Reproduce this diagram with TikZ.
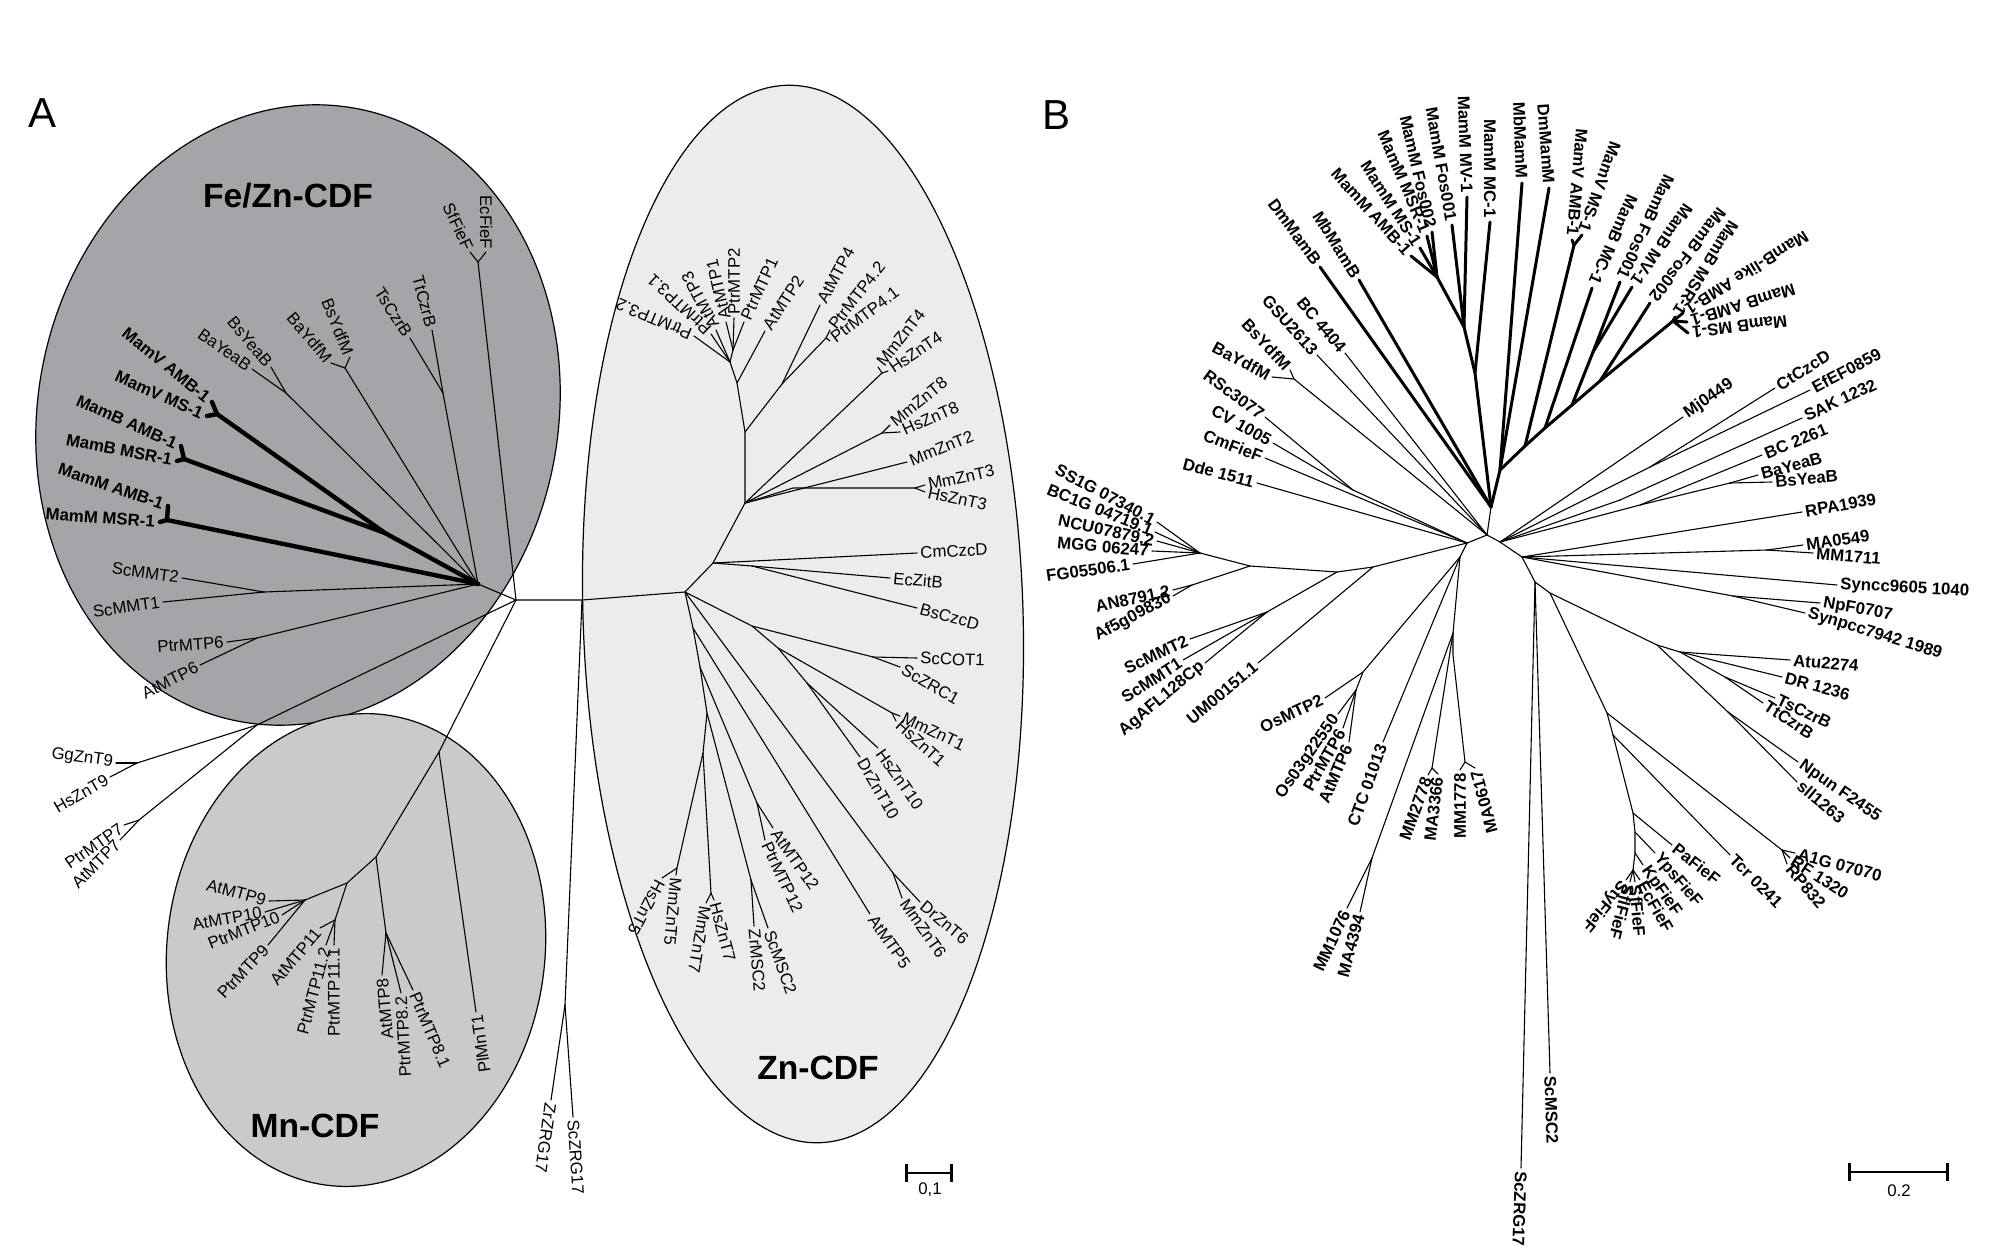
\documentclass[tikz,border=0pt]{standalone}
\usepackage{fontspec}
\setmainfont{Liberation Sans}
\usetikzlibrary{arrows.meta}
\definecolor{fezc}{RGB}{163,165,168}
\definecolor{mnc}{RGB}{200,202,204}
\definecolor{znc}{RGB}{236,236,236}
\tikzset{
  lbl/.style={font=\fontsize{8.4}{10}\selectfont, inner sep=1.5pt},
  br/.style={line width=0.55pt, line cap=round},
  thk/.style={line width=2.2pt},
  thkb/.style={line width=1.5pt},
  bld/.style={font=\bfseries\fontsize{8.4}{10}\selectfont},
  clade/.style={line width=0.6pt, draw=black},
  head/.style={font=\bfseries\fontsize{16.8}{20}\selectfont},
  panel/.style={font=\fontsize{21}{24}\selectfont},
  sbar/.style={line width=1.4pt, {Bar[width=9pt]}-{Bar[width=9pt]}},
}
\newcommand\lf[7][]{%
  \coordinate (#4) at (#5);
  \draw[br,#1] (#3) -- (#4);
  \node[lbl,#1,anchor=#2,rotate=#6] (#4t) at (#4) {#7};
}
\newcommand\lfw[6][]{\lf[#1]{west}{#2}{#3}{#4}{#5}{#6}}
\newcommand\lfe[6][]{\lf[#1]{east}{#2}{#3}{#4}{#5}{#6}}
\begin{document}
\begin{tikzpicture}[x=0.5pt,y=-0.5pt]
\useasboundingbox (0,0) rectangle (1991,1253);
\fill[white] (0,0) rectangle (1991,1253);

% ================= PANEL A =================
\node[panel] (pA) at (43,113) {A};
\draw[clade,fill=fezc,rotate around={-11.3:(298,415)}] (298,415) ellipse [x radius=130pt, y radius=156pt];
\draw[clade,fill=mnc,rotate around={-6.7:(356,950)}] (356,950) ellipse [x radius=94.5pt, y radius=118.5pt];
\draw[clade,fill=znc,rotate around={1.8:(803,614)}] (803,614) ellipse [x radius=110pt, y radius=264.5pt];
\node[head] (hfe) at (288,196) {Fe/Zn-CDF};
\node[head] (hmn) at (315,1126) {Mn-CDF};
\node[head] (hzn) at (818,1068) {Zn-CDF};

% internal nodes
\coordinate (J1) at (516,600);
\coordinate (F0) at (478,584);
\coordinate (Zr) at (582,600);
\coordinate (Z0) at (685,592);
\coordinate (Z1) at (713,563);
\coordinate (Ze) at (752,566);
\coordinate (Na) at (752,626);
\coordinate (Nb) at (873,657);
\coordinate (Nc) at (778,648);
\coordinate (Nt1) at (892,713);
\coordinate (Nd) at (807,683);
\coordinate (S1) at (693,628);
\coordinate (S2) at (700,667);
\coordinate (S3) at (707,713);
\coordinate (S5) at (703,753);
\coordinate (T6) at (893,873);
\coordinate (P12) at (757,803);
\coordinate (MSC) at (751,880);
\coordinate (T7) at (711,893);
\coordinate (T5) at (677,868);
\coordinate (U1) at (745,503);
\coordinate (U2) at (745,432);
\coordinate (U3) at (737,383);
\coordinate (U4) at (782,384);
\coordinate (U5) at (730,362);
\coordinate (U6) at (733,350);
\coordinate (N44) at (826,338);
\coordinate (N4) at (882,373);
\coordinate (N8) at (882,433);
\coordinate (N3a) at (793,488);
\coordinate (N3) at (915,488);
\coordinate (ZR) at (565,1005);
\coordinate (Fe1) at (478,262);
\coordinate (Ts) at (443,393);
\coordinate (Yd) at (345,368);
\coordinate (Ye) at (286,393);
\coordinate (MV) at (217,414);
\coordinate (MB) at (184,459);
\coordinate (MVB) at (385,533);
\coordinate (MM) at (167,520);
\coordinate (Sc) at (264,592);
\coordinate (P6) at (257,638);
\coordinate (M7) at (257,725);
\coordinate (Ngh) at (137,763);
\coordinate (Np7) at (139,820);
\coordinate (Mn0) at (439,752);
\coordinate (Mn1) at (376,857);
\coordinate (Mn8) at (386,933);
\coordinate (Mn9) at (347,883);
\coordinate (Mn10) at (305,900);
\coordinate (Mn11) at (335,920);

% internal edges
\draw[br] (J1) -- (Zr) -- (Z0);
\draw[br] (J1) -- (F0);
\draw[br] (J1) -- (Fe1);
\draw[br] (J1) -- (M7);
\draw[br] (J1) -- (Mn0);
\draw[br] (Ts) -- (F0);
\draw[br] (Yd) -- (F0);
\draw[br] (Ye) -- (F0);
\draw[br] (Sc) -- (F0);
\draw[br] (P6) -- (F0);
\draw[br,thk] (MV) -- (MVB);
\draw[br,thk] (MB) -- (MVB);
\draw[br,thk] (MVB) -- (F0);
\draw[br,thk] (MM) -- (F0);
\draw[br] (M7) -- (Ngh);
\draw[br] (M7) -- (Np7);
\draw[br] (Zr) -- (ZR);
\draw[br] (Z0) -- (Z1) -- (Ze);
\draw[br] (Z1) -- (U1) -- (U2) -- (U3) -- (U5) -- (U6);
\draw[br] (U2) -- (U4) -- (N44);
\draw[br] (U1) -- (N4);
\draw[br] (U1) -- (N8);
\draw[br] (U1) -- (N3a) -- (N3);
\draw[br] (Z0) -- (Na) -- (Nb);
\draw[br] (Na) -- (Nc) -- (Nt1);
\draw[br] (Nc) -- (Nd);
\draw[br] (Z0) -- (T6);
\draw[br] (Z0) -- (S1) -- (S2) -- (S3) -- (S5);
\draw[br] (S2) -- (P12);
\draw[br] (S3) -- (MSC);
\draw[br] (S5) -- (T7);
\draw[br] (S5) -- (T5);
\draw[br] (Mn0) -- (Mn1) -- (Mn8);
\draw[br] (Mn1) -- (Mn9) -- (Mn10);
\draw[br] (Mn9) -- (Mn11);

% Fe/Zn leaves
\lfe{Fe1}{ecfiefa}{486,252}{-90}{EcFieF}
\lfe{Fe1}{sffiefa}{470,252}{-65}{SfFieF}
\lfe{Ts}{ttczrba}{432,330}{-75}{TtCzrB}
\lfe{Ts}{tsczrba}{410,338}{-57}{TsCzrB}
\lfe{Yd}{bsydfma}{350,357}{-68}{BsYdfM}
\lfe{Yd}{baydfma}{331,363}{-50}{BaYdfM}
\lfe{Ye}{bsyeaba}{271,367}{-50}{BsYeaB}
\lfe{Ye}{bayeaba}{252,369}{-35}{BaYeaB}
\lfe[thk,bld]{MV}{mamvamba}{212,402}{-39}{MamV AMB-1}
\lfe[thk,bld]{MV}{mamvmsa}{207,416}{-24}{MamV MS-1}
\lfe[thk,bld]{MB}{mambamba}{181,446}{-24}{MamB AMB-1}
\lfe[thk,bld]{MB}{mambmsra}{177,461}{-11}{MamB MSR-1}
\lfe[thk,bld]{MM}{mammamba}{168,506}{-19}{MamM AMB-1}
\lfe[thk,bld]{MM}{mammmsra}{160,522}{-4}{MamM MSR-1}
\lfe{Sc}{scmmt2a}{182,578}{-8}{ScMMT2}
\lfe{Sc}{scmmt1a}{163,602}{8}{ScMMT1}
\lfe{P6}{ptrmtp6a}{227,642}{4}{PtrMTP6}
\lfe{P6}{atmtp6a}{200,665}{27}{AtMTP6}
\lfe{Ngh}{ggznt9}{116,763}{-8}{GgZnT9}
\lfe{Ngh}{hsznt9}{110,777}{30}{HsZnT9}
\lfe{Np7}{ptrmtp7}{124,825}{35}{PtrMTP7}
\lfe{Np7}{atmtp7}{120,840}{45}{AtMTP7}
% Mn leaves
\lfe{Mn0}{plmnt1}{476,1012}{98}{PlMnT1}
\lfe{Mn8}{atmtp8}{382,975}{95}{AtMTP8}
\lfe{Mn8}{ptrmtp82}{401,993}{93}{PtrMTP8.2}
\lfw{Mn8}{ptrmtp81}{413,990}{-67}{PtrMTP8.1}
\lfe{Mn11}{atmtp11}{320,928}{50}{AtMTP11}
\lfe{Mn11}{ptrmtp112}{326,945}{75}{PtrMTP11.2}
\lfe{Mn11}{ptrmtp111}{334,945}{90}{PtrMTP11.1}
\lfe{Mn10}{atmtp9}{269,901}{-15}{AtMTP9}
\lfe{Mn10}{atmtp10}{265,912}{10}{AtMTP10}
\lfe{Mn10}{ptrmtp10}{282,915}{22}{PtrMTP10}
\lfe{Mn10}{ptrmtp9}{268,945}{47}{PtrMTP9}
% ZRG
\lfw{ZR}{zrzrg17}{551,1100}{-98}{ZrZRG17}
\lfw{ZR}{sczrg17a}{573,1117}{-86}{ScZRG17}
% Zn leaves
\lfw{Z1}{cmczcd}{917,553}{3}{CmCzcD}
\lfw{Ze}{eczitb}{890,578}{-5}{EcZitB}
\lfw{Ze}{bsczcd}{917,608}{-15}{BsCzcD}
\lfw{Nb}{sccot1}{917,658}{-2}{ScCOT1}
\lfw{Nb}{sczrc1}{900,667}{-30}{ScZRC1}
\lfw{Nt1}{mmznt1}{900,716}{-25}{MmZnT1}
\lfw{Nt1}{hsznt1}{896,721}{-42}{HsZnT1}
\lfw{Nd}{hsznt10}{878,748}{-55}{HsZnT10}
\lfw{Nd}{drznt10}{860,757}{-60}{DrZnT10}
\lfw{T6}{drznt6}{920,902}{-40}{DrZnT6}
\lfw{T6}{mmznt6}{902,898}{-55}{MmZnT6}
\lfw{S1}{atmtp5}{870,914}{-55}{AtMTP5}
\lfw{P12}{atmtp12}{773,828}{-55}{AtMTP12}
\lfw{P12}{ptrmtp12}{765,840}{-65}{PtrMTP12}
\lfw{MSC}{scmsc2a}{768,928}{-70}{ScMSC2}
\lfw{MSC}{zrmsc2}{754,926}{-85}{ZrMSC2}
\lfw{T7}{hsznt7}{714,900}{-75}{HsZnT7}
\lfw{T7}{mmznt7}{706,903}{-100}{MmZnT7}
\lfw{T5}{mmznt5}{676,875}{-95}{MmZnT5}
\lfw{T5}{hsznt5}{662,878}{-118}{HsZnT5}
\lfw{N4}{mmznt4}{878,367}{52}{MmZnT4}
\lfw{N4}{hsznt4}{888,371}{34}{HsZnT4}
\lfw{N8}{mmznt8}{890,425}{39}{MmZnT8}
\lfw{N8}{hsznt8}{900,432}{24}{HsZnT8}
\lfw{U1}{mmznt2}{907,462}{22}{MmZnT2}
\lfw{N3}{mmznt3}{925,485}{12}{MmZnT3}
\lfw{N3}{hsznt3}{925,492}{-12}{HsZnT3}
\lfw{U4}{atmtp4}{820,305}{62}{AtMTP4}
\lfw{N44}{ptrmtp42}{830,330}{52}{PtrMTP4.2}
\lfw{N44}{ptrmtp41}{830,341}{37}{PtrMTP4.1}
\lfw{U3}{atmtp2}{765,331}{57}{AtMTP2}
\lfw{U6}{ptrmtp1}{744,322}{65}{PtrMTP1}
\lfw{U6}{ptrmtp2}{734,318}{90}{PtrMTP2}
\lfw{U6}{atmtp1}{726,322}{103}{AtMTP1}
\lfw{U5}{atmtp3}{716,330}{118}{AtMTP3}
\lfw{U5}{ptrmtp31}{711,334}{137}{PtrMTP3.1}
\lfw{U5}{ptrmtp32}{694,336}{157}{PtrMTP3.2}
% scale bar A
\coordinate (sa1) at (905,1173);
\coordinate (sa2) at (953,1173);
\draw[sbar] (sa1) -- (sa2);
\node[lbl] (sal) at (930,1190) {0,1};

% ================= PANEL B =================
\node[panel] (pB) at (1056,115) {B};
\begin{scope}[lbl/.style={font=\bfseries\fontsize{8.4}{10}\selectfont, inner sep=1.5pt}]
\coordinate (C0) at (1467,543);
\coordinate (C1) at (1487,535);
\coordinate (C3) at (1500,542);
\coordinate (C4) at (1522,557);
\coordinate (Zs) at (1535,582);
\coordinate (R1) at (1550,593);
\coordinate (Q0) at (1460,557);
\coordinate (Bm0) at (1491,507);
\coordinate (Yd2) at (1294,379);
\coordinate (Nrc) at (1353,490);
\coordinate (F1) at (1200,553);
\coordinate (F2) at (1250,566);
\coordinate (F3) at (1337,572);
\coordinate (F4) at (1373,567);
\coordinate (Ann) at (1192,585);
\coordinate (Sc2) at (1267,612);
\coordinate (Q6) at (1363,672);
\coordinate (Q7) at (1356,690);
\coordinate (Q1) at (1453,633);
\coordinate (Q5) at (1372,858);
\coordinate (Q2) at (1432,768);
\coordinate (Q3) at (1453,655);
\coordinate (Q4) at (1465,762);
\coordinate (Rt1) at (1650,467);
\coordinate (Rt2) at (1620,500);
\coordinate (Rt3) at (1640,505);
\coordinate (Yb) at (1730,483);
\coordinate (Mm) at (1767,550);
\coordinate (Sy) at (1733,596);
\coordinate (At1) at (1657,645);
\coordinate (At2) at (1680,652);
\coordinate (At3) at (1725,677);
\coordinate (At4) at (1728,712);
\coordinate (Fi1) at (1607,713);
\coordinate (A1n) at (1782,850);
\coordinate (Fi2) at (1613,735);
\coordinate (Fi3) at (1633,813);
\coordinate (Fi4) at (1635,832);
\coordinate (Fi5) at (1635,853);
\coordinate (Fi6) at (1633,870);
\coordinate (BmM) at (1475,373);
\coordinate (BmM2) at (1464,327);
\coordinate (BmM3) at (1437,277);
\coordinate (Bm1) at (1500,470);
\coordinate (Br2) at (1525,446);
\coordinate (Br3) at (1545,428);
\coordinate (Br4) at (1572,405);
\coordinate (Br5) at (1600,381);
\coordinate (Nfm) at (1593,352);
\coordinate (MV2) at (1574,245);
\coordinate (MBb) at (1673,321);

\draw[br] (C0) -- (C1) -- (C3) -- (C4) -- (Zs) -- (R1);
\draw[br] (C0) -- (Q0);
\draw[br] (C1) -- (Bm0);
\draw[br] (C1) -- (Yd2);
\draw[br] (C0) -- (Nrc);
\draw[br] (F1) -- (F2) -- (F3) -- (F4) -- (C0);
\draw[br] (Ann) -- (F2);
\draw[br] (Sc2) -- (F3);
\draw[br] (Q0) -- (Q6) -- (Q7);
\draw[br] (Q0) -- (Q1) -- (Q5);
\draw[br] (Q1) -- (Q2);
\draw[br] (Q1) -- (Q3) -- (Q4);
\draw[br] (C3) -- (Rt1);
\draw[br] (C3) -- (Rt2);
\draw[br] (C3) -- (Rt3) -- (Yb);
\draw[br] (C4) -- (Mm);
\draw[br] (C4) -- (Sy);
\draw[br] (R1) -- (At1) -- (At2) -- (At3);
\draw[br] (At1) -- (At4);
\draw[br] (R1) -- (Fi1) -- (A1n);
\draw[br] (Fi1) -- (Fi2) -- (Fi3) -- (Fi4) -- (Fi5) -- (Fi6);
\draw[br,thkb] (Bm0) -- (BmM) -- (BmM2) -- (BmM3);
\draw[br,thkb] (Bm0) -- (Bm1) -- (Br2) -- (Br3) -- (Br4) -- (Br5) -- (MBb);
\draw[br,thkb] (Br2) -- (MV2);
\draw[br,thkb] (Br4) -- (Nfm);

% Mam clade
\lfe[thkb]{Bm0}{dmmamb}{1320,267}{-54}{DmMamB}
\lfe[thkb]{Bm0}{mbmamb}{1359,280}{-58}{MbMamB}
\lfe[thkb]{BmM}{mammmc1}{1490,222}{-90}{MamM MC-1}
\lfe[thkb]{BmM2}{mammmv1}{1467,197}{-88}{MamM MV-1}
\lfe[thkb]{BmM2}{mammfos001}{1452,225}{-80}{MamM Fos001}
\lfe[thkb]{BmM3}{mammfos002}{1432,232}{-77}{MamM Fos002}
\lfe[thkb]{BmM3}{mammmsr1}{1427,236}{-67}{MamM MSR-1}
\lfe[thkb]{BmM3}{mammms1}{1420,248}{-57}{MamM MS-1}
\lfe[thkb]{BmM3}{mammamb1}{1411,256}{-48}{MamM AMB-1}
\lfe[thkb]{Bm1}{mbmamm}{1522,183}{-88}{MbMamM}
\lfe[thkb]{Bm1}{dmmamm}{1549,188}{-86}{DmMamM}
\lfe[thkb]{MV2}{mamvamb1}{1572,240}{-95}{MamV AMB-1}
\lfe[thkb]{MV2}{mamvms1}{1582,235}{-110}{MamV MS-1}
\lfe[thkb]{Br3}{mambmc1}{1592,288}{-114}{MamB MC-1}
\lfe[thkb]{Nfm}{mambfos001}{1620,282}{-115}{MamB Fos001}
\lfe[thkb]{Nfm}{mambmv1}{1632,287}{-125}{MamB MV-1}
\lfe[thkb]{Br5}{mambfos002}{1650,303}{-128}{MamB Fos002}
\lfe[thkb]{MBb}{mambmsr1}{1675,317}{-122}{MamB MSR-1}
\lfe[thkb]{MBb}{mamblike}{1683,313}{-148}{MamB-like AMB-1}
\lfe[thkb]{MBb}{mambamb1}{1687,322}{-163}{MamB AMB-1}
\lfe[thkb]{MBb}{mambms1}{1688,333}{-173}{MamB MS-1}
% upper-left thin
\lfe{C1}{bc4404}{1345,353}{-50}{BC 4404}
\lfe{C1}{gsu2613}{1317,355}{-48}{GSU2613}
\lfe{Yd2}{bsydfmb}{1290,370}{-47}{BsYdfM}
\lfe{Yd2}{baydfmb}{1272,377}{-28}{BaYdfM}
\lfe{Nrc}{rsc3077}{1265,417}{-36}{RSc3077}
\lfe{Nrc}{cv1005}{1273,443}{-29}{CV 1005}
\lfe{C0}{cmfiefb}{1265,458}{-21}{CmFieF}
\lfe{C0}{dde1511}{1257,483}{-15}{Dde 1511}
% left group
\lfe{F1}{ss1g}{1157,522}{-28}{SS1G 07340.1}
\lfe{F1}{bc1g}{1155,532}{-22}{BC1G 04719.1}
\lfe{F1}{ncu}{1157,541}{-12}{NCU07879.2}
\lfe{F1}{mgg}{1152,551}{-5}{MGG 06247}
\lfe{F1}{fg055}{1133,564}{8}{FG05506.1}
\lfe{Ann}{an8791}{1173,590}{12}{AN8791.2}
\lfe{Ann}{af5g}{1173,596}{28}{Af5g09830}
\lfe{Sc2}{scmmt2b}{1190,639}{25}{ScMMT2}
\lfe{Sc2}{scmmt1b}{1183,660}{33}{ScMMT1}
\lfe{Sc2}{agafl}{1205,663}{40}{AgAFL128Cp}
\lfe{F4}{um00151}{1258,663}{40}{UM00151.1}
% lower-left
\lfe{Q6}{osmtp2}{1325,698}{25}{OsMTP2}
\lfe{Q7}{os03g}{1338,714}{55}{Os03g22550}
\lfe{Q7}{ptrmtp6b}{1343,728}{60}{PtrMTP6}
\lfe{Q7}{atmtp6b}{1349,742}{67}{AtMTP6}
\lfe{Q0}{ctc01013}{1383,742}{70}{CTC 01013}
\lfe{Q5}{mm1076}{1347,908}{65}{MM1076}
\lfe{Q5}{ma4394}{1360,912}{75}{MA4394}
\lfe{Q2}{mm2778}{1428,775}{70}{MM2778}
\lfe{Q2}{ma3366}{1438,774}{83}{MA3366}
\lfe{Q4}{mm1778}{1460,770}{90}{MM1778}
\lfe{Q4}{ma0617}{1475,768}{105}{MA0617}
\lfw{Zs}{sczrg17b}{1521,1168}{-92}{ScZRG17}
\lfw{Zs}{scmsc2b}{1550,1073}{-88}{ScMSC2}
% right
\lfw{C3}{mj0449}{1683,417}{35}{Mj0449}
\lfw{Rt1}{ctczcd}{1775,388}{32}{CtCzcD}
\lfw{Rt1}{efef0859}{1810,390}{28}{EfEF0859}
\lfw{Rt2}{sak1232}{1802,418}{25}{SAK 1232}
\lfw{Rt3}{bc2261}{1762,455}{22}{BC 2261}
\lfw{Yb}{bayeabb}{1758,475}{15}{BaYeaB}
\lfw{Yb}{bsyeabb}{1772,482}{5}{BsYeaB}
\lfw{C4}{rpa1939}{1802,512}{10}{RPA1939}
\lfw{Mm}{ma0549}{1803,545}{8}{MA0549}
\lfw{Mm}{mm1711}{1813,553}{-5}{MM1711}
\lfw{C4}{syncc}{1837,585}{-3}{Syncc9605 1040}
\lfw{Sy}{npf0707}{1820,603}{-10}{NpF0707}
\lfw{Sy}{synpcc}{1805,613}{-17}{Synpcc7942 1989}
\lfw{At2}{atu2274}{1790,660}{-5}{Atu2274}
\lfw{At2}{dr1236}{1782,677}{-15}{DR 1236}
\lfw{At3}{tsczrbb}{1775,698}{-25}{TsCzrB}
\lfw{At3}{ttczrbb}{1763,703}{-33}{TtCzrB}
\lfw{At4}{npun}{1798,762}{-35}{Npun F2455}
\lfw{At4}{sll1263}{1797,782}{-40}{sll1263}
\lfw{A1n}{a1g}{1795,853}{-15}{A1G 07070}
\lfw{A1n}{rf1320}{1790,858}{-33}{RF 1320}
\lfw{A1n}{rp832}{1787,864}{-50}{RP832}
\lfw{Fi2}{tcr0241}{1730,855}{-45}{Tcr 0241}
\lfw{Fi3}{pafief}{1672,845}{-38}{PaFieF}
\lfw{Fi4}{ypsfief}{1655,853}{-50}{YpsFieF}
\lfw{Fi5}{kpfief}{1643,865}{-55}{KpFieF}
\lfw{Fi6}{ecfiefb}{1640,880}{-60}{EcFieF}
\lfw{Fi6}{sffiefb}{1635,882}{-85}{SfFieF}
\lfw{Fi6}{sflfief}{1630,882}{-105}{SflFieF}
\lfw{Fi6}{styfief}{1626,880}{-130}{StyFieF}
\end{scope}
% scale bar B
\coordinate (sb1) at (1848,1172);
\coordinate (sb2) at (1949,1172);
\draw[sbar] (sb1) -- (sb2);
\node[lbl] (sbl) at (1899,1191) {0.2};
\end{tikzpicture}
\end{document}
